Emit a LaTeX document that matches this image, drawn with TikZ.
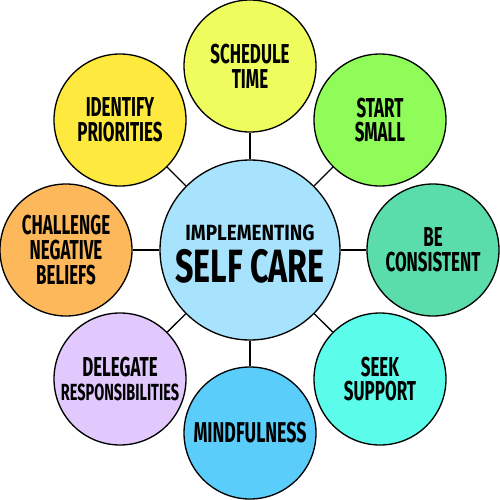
\documentclass[tikz,border=0pt]{standalone}
\usepackage{fontspec}
\newfontfamily\handfont[FakeStretch=0.62]{Fira Sans}
\newfontfamily\handmid[FakeStretch=0.69]{Fira Sans}
\newfontfamily\handwide[FakeStretch=0.86]{Fira Sans}
\definecolor{cCenter}{HTML}{A7E3FD}
\definecolor{cSched}{HTML}{EEFC5E}
\definecolor{cIdent}{HTML}{FEE93F}
\definecolor{cStart}{HTML}{8FFC5A}
\definecolor{cCons}{HTML}{5ADDAA}
\definecolor{cSeek}{HTML}{5BFDEA}
\definecolor{cMind}{HTML}{5BCDFB}
\definecolor{cDeleg}{HTML}{E1C9FD}
\definecolor{cChall}{HTML}{FDB85C}
\begin{document}
\begin{tikzpicture}[x=0.75pt,y=-0.75pt,
  bubble/.style={circle, draw=black, line width=1pt, inner sep=0pt, minimum size=99pt, align=center,
    font=\handfont\bfseries\fontsize{20.5}{18.5}\selectfont},
  hub/.style={circle, draw=black, line width=1pt, inner sep=0pt, minimum size=135pt, fill=cCenter},
  hubtext/.style={anchor=base, inner sep=0pt},
  link/.style={draw=black, line width=1pt}]
\useasboundingbox (0,0) rectangle (500,500);
\node[hub] (c) at (250,250) {};
\node[hubtext, font=\handwide\bfseries\fontsize{16.5}{16.5}\selectfont] (t1) at (250,240) {IMPLEMENTING};
\node[hubtext, font=\handmid\bfseries\fontsize{35}{35}\selectfont] (t2) at (250,282) {SELF CARE};
\node[bubble, fill=cSched] (sched) at (250,66) {SCHEDULE\\TIME};
\node[bubble, fill=cStart] (start) at (380,120) {START\\SMALL};
\node[bubble, fill=cCons] (cons) at (433,250) {BE\\CONSISTENT};
\node[bubble, fill=cSeek] (seek) at (380,379) {SEEK\\SUPPORT};
\node[bubble, fill=cMind] (mind) at (250,433) {\fontsize{21.5}{18.5}\selectfont MINDFULNESS};
\node[bubble, fill=cDeleg] (deleg) at (120,379) {DELEGATE\\{\fontsize{17.5}{17.5}\selectfont RESPONSIBILITIES}};
\node[bubble, fill=cChall] (chall) at (66,250) {CHALLENGE\\NEGATIVE\\BELIEFS};
\node[bubble, fill=cIdent] (ident) at (120,120) {IDENTIFY\\PRIORITIES};
\foreach \n in {sched,start,cons,seek,mind,deleg,chall,ident}
  \draw[link] (c) -- (\n);
\end{tikzpicture}
\end{document}
